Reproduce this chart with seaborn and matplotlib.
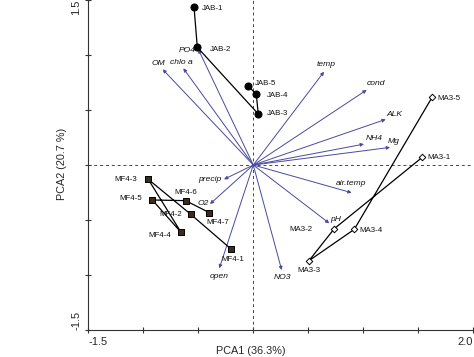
import matplotlib
matplotlib.use("Agg")
import matplotlib.pyplot as plt
import seaborn as sns
import pandas as pd

# ---------------- data ----------------
jab_names = ["JAB-1", "JAB-2", "JAB-3", "JAB-4", "JAB-5"]
jab_x = [-0.539, -0.509, 0.045, 0.027, -0.045]
jab_y = [1.439, 1.070, 0.464, 0.643, 0.718]

ma3_names = ["MA3-1", "MA3-2", "MA3-3", "MA3-4", "MA3-5"]
ma3_x = [1.536, 0.736, 0.506, 0.918, 1.625]
ma3_y = [0.070, -0.579, -0.870, -0.585, 0.615]

mf4_names = ["MF4-1", "MF4-2", "MF4-3", "MF4-4", "MF4-5", "MF4-6", "MF4-7"]
mf4_x = [-0.206, -0.569, -0.955, -0.657, -0.918, -0.615, -0.400]
mf4_y = [-0.761, -0.448, -0.130, -0.612, -0.318, -0.324, -0.433]

var_names = ["temp", "cond", "ALK", "NH4", "Mg", "air.temp", "pH", "NO3",
             "open", "O2", "precip", "PO4", "chlo a", "OM"]
var_x = [0.643, 1.030, 1.204, 1.006, 1.243, 0.894, 0.691, 0.258,
         -0.309, -0.394, -0.266, -0.500, -0.636, -0.824]
var_y = [0.848, 0.682, 0.415, 0.190, 0.160, -0.252, -0.530, -0.955,
         -0.939, -0.355, -0.130, 1.052, 0.879, 0.870]

x_ticks = [-1.5, -1.0, -0.5, 0.0, 0.5, 1.0, 1.5, 2.0]
x_ticklabels = ["-1.5", "", "", "", "", "", "", "2.0"]
y_ticks = [-1.5, -1.0, -0.5, 0.0, 0.5, 1.0, 1.5]
y_ticklabels = ["-1.5", "", "", "", "", "", "1.5"]

# ---------------- layout / style (pixel offsets for labels) ----------------
site_lab = {
    "JAB-1": (8, -2, "left"), "JAB-2": (13, -2, "left"), "JAB-3": (9, 0, "left"),
    "JAB-4": (11, -1, "left"), "JAB-5": (7, 3, "left"),
    "MA3-1": (5, 0, "left"), "MA3-2": (-22, -1, "right"), "MA3-3": (0, -10, "center"),
    "MA3-4": (5, -1, "left"), "MA3-5": (5, -1, "left"),
    "MF4-1": (-9, -11, "left"), "MF4-2": (-9, 0, "right"), "MF4-3": (-11, 0, "right"),
    "MF4-4": (-10, -3, "right"), "MF4-5": (-10, 1, "right"), "MF4-6": (0, 8, "center"),
    "MF4-7": (-3, -10, "left"),
}
var_lab = {
    "temp": (2, 7, "center"), "cond": (0, 6, "left"), "ALK": (1, 5, "left"),
    "NH4": (2, 6, "left"), "Mg": (-2, 6, "left"), "air.temp": (-1, 9, "center"),
    "pH": (1, 4, "left"), "NO3": (1, -7, "center"), "open": (0, -8, "center"),
    "O2": (-1, 1, "right"), "precip": (-3, 0, "right"), "PO4": (-3, -1, "right"),
    "chlo a": (-2, 6, "center"), "OM": (-4, 6, "center"),
}

sns.set_style("ticks")
plt.rcParams["font.family"] = ["Liberation Sans", "DejaVu Sans"]

fig = plt.figure(figsize=(4.74, 3.57), dpi=100)
ax = fig.add_axes([88.3 / 474, 27 / 357, 385 / 474, 330 / 357])
ax.set_xlim(-1.5, 2.0)
ax.set_ylim(-1.5, 1.5)

ax.axhline(0, color="#444444", lw=0.7, ls=(0, (3, 3)), zorder=1)
ax.axvline(0, color="#444444", lw=0.7, ls=(0, (3, 3)), zorder=1)

arrow_c = "#4a4a9c"
for n, vx, vy in zip(var_names, var_x, var_y):
    ax.annotate("", xy=(vx, vy), xytext=(0, 0),
                arrowprops=dict(arrowstyle="-|>", color=arrow_c, lw=0.7,
                                mutation_scale=5, shrinkA=0, shrinkB=0), zorder=2)
    dx, dy, ha = var_lab[n]
    ax.annotate(n, xy=(vx, vy), xytext=(dx, dy), textcoords="offset pixels",
                ha=ha, va="center", fontsize=6.1, style="italic", color="#111111")

groups = [
    (jab_names, jab_x, jab_y, "o", "black", "black", 26),
    (ma3_names, ma3_x, ma3_y, "D", "white", "black", 11),
    (mf4_names, mf4_x, mf4_y, "s", "#3b2b18", "black", 24),
]
for names, gx, gy, mk, fc, ec, s in groups:
    df = pd.DataFrame({"x": gx, "y": gy, "name": names})
    sns.lineplot(data=df, x="x", y="y", sort=False, estimator=None,
                 color="black", lw=0.9, ax=ax, zorder=3)
    sns.scatterplot(data=df, x="x", y="y", marker=mk, s=s, color=fc,
                    edgecolor=ec, linewidth=0.7, ax=ax, zorder=4)
    for n, px, py in zip(names, gx, gy):
        dx, dy, ha = site_lab[n]
        ax.annotate(n, xy=(px, py), xytext=(dx, dy), textcoords="offset pixels",
                    ha=ha, va="center", fontsize=5.7, color="#111111")

sns.despine(ax=ax)
ax.set_xticks(x_ticks)
ax.set_xticklabels(x_ticklabels)
ax.set_yticks(y_ticks)
ax.set_yticklabels(y_ticklabels)
ax.tick_params(direction="inout", length=4, width=0.8, labelsize=8, pad=3,
               color="#333333")
for sp in ax.spines.values():
    sp.set_linewidth(0.8)
    sp.set_color("#333333")

xl = ax.get_xticklabels()
xl[0].set_ha("left")
xl[-1].set_ha("right")
yl = ax.get_yticklabels()
for lab in yl:
    lab.set_rotation(90)
yl[0].set_va("bottom")
yl[-1].set_va("top")

ax.set_xlabel("PCA1 (36.3%)", fontsize=7.8)
ax.set_ylabel("PCA2 (20.7 %)", fontsize=7.8)
ax.xaxis.set_label_coords(0.422, -0.047)
ax.yaxis.set_label_coords(-0.056, 0.503)

fig.savefig("out.png", dpi=100)
